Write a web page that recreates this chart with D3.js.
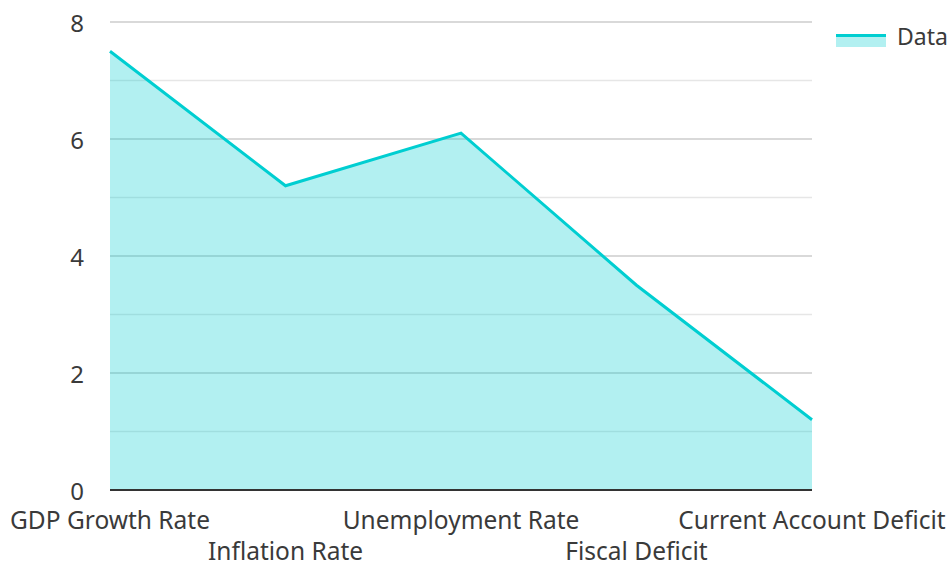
<!DOCTYPE html>
<html>
<head>
<meta charset="utf-8">
<script src="https://cdn.jsdelivr.net/npm/d3@7"></script>
<style>
  body { margin: 0; background: #fff; }
  text { font-family: "Noto Sans", sans-serif; fill: #3a3a3a; }
</style>
</head>
<body>
<svg id="chart" width="951" height="562"></svg>
<script>
const categories = ["GDP Growth Rate", "Inflation Rate", "Unemployment Rate", "Fiscal Deficit", "Current Account Deficit"];
const values = [7.5, 5.2, 6.1, 3.5, 1.2];
const yTicks = [0, 2, 4, 6, 8];
const yMinor = [1, 3, 5, 7];

const W = 951, H = 562;
const margin = { top: 22, right: 139, bottom: 72, left: 110 };
const iw = W - margin.left - margin.right;
const ih = H - margin.top - margin.bottom;

const svg = d3.select("#chart");
const g = svg.append("g").attr("transform", `translate(${margin.left},${margin.top})`);

const x = d3.scalePoint().domain(categories).range([0, iw]).padding(0);
const y = d3.scaleLinear().domain([0, 8]).range([ih, 0]);

// grid
g.selectAll(".minor").data(yMinor).enter().append("line")
  .attr("x1", 0).attr("x2", iw)
  .attr("y1", d => y(d)).attr("y2", d => y(d))
  .attr("stroke", "#e6e6e6").attr("stroke-width", 1.5);
g.selectAll(".major").data(yTicks.slice(1)).enter().append("line")
  .attr("x1", 0).attr("x2", iw)
  .attr("y1", d => y(d)).attr("y2", d => y(d))
  .attr("stroke", "#cccccc").attr("stroke-width", 1.5);

const data = categories.map((c, i) => ({ c, v: values[i] }));

const area = d3.area().x(d => x(d.c)).y0(y(0)).y1(d => y(d.v));
const line = d3.line().x(d => x(d.c)).y(d => y(d.v));

g.append("path").datum(data).attr("d", area)
  .attr("fill", "rgba(0,206,209,0.3)");
g.append("path").datum(data).attr("d", line)
  .attr("fill", "none").attr("stroke", "#00CED1").attr("stroke-width", 3);

// x axis line
g.append("line").attr("x1", 0).attr("x2", iw)
  .attr("y1", ih).attr("y2", ih)
  .attr("stroke", "#333").attr("stroke-width", 2);

// y labels
g.selectAll(".ylab").data(yTicks).enter().append("text")
  .attr("x", -26).attr("y", d => y(d))
  .attr("text-anchor", "end").attr("dominant-baseline", "central")
  .style("font-size", "24px")
  .text(d => d);

// x labels (staggered)
g.selectAll(".xlab").data(categories).enter().append("text")
  .attr("x", d => x(d))
  .attr("y", (d, i) => ih + (i % 2 === 0 ? 29 : 60))
  .attr("text-anchor", "middle").attr("dominant-baseline", "central")
  .style("font-size", "24.5px")
  .text(d => d);

// legend
const lg = svg.append("g").attr("transform", "translate(836,34)");
lg.append("rect").attr("x", 0).attr("y", 0).attr("width", 50).attr("height", 13)
  .attr("fill", "rgba(0,206,209,0.3)");
lg.append("line").attr("x1", 0).attr("x2", 50).attr("y1", 1.5).attr("y2", 1.5)
  .attr("stroke", "#00CED1").attr("stroke-width", 3);
lg.append("text").attr("x", 61).attr("y", 2)
  .attr("dominant-baseline", "central")
  .style("font-size", "23px").text("Data");
</script>
</body>
</html>
